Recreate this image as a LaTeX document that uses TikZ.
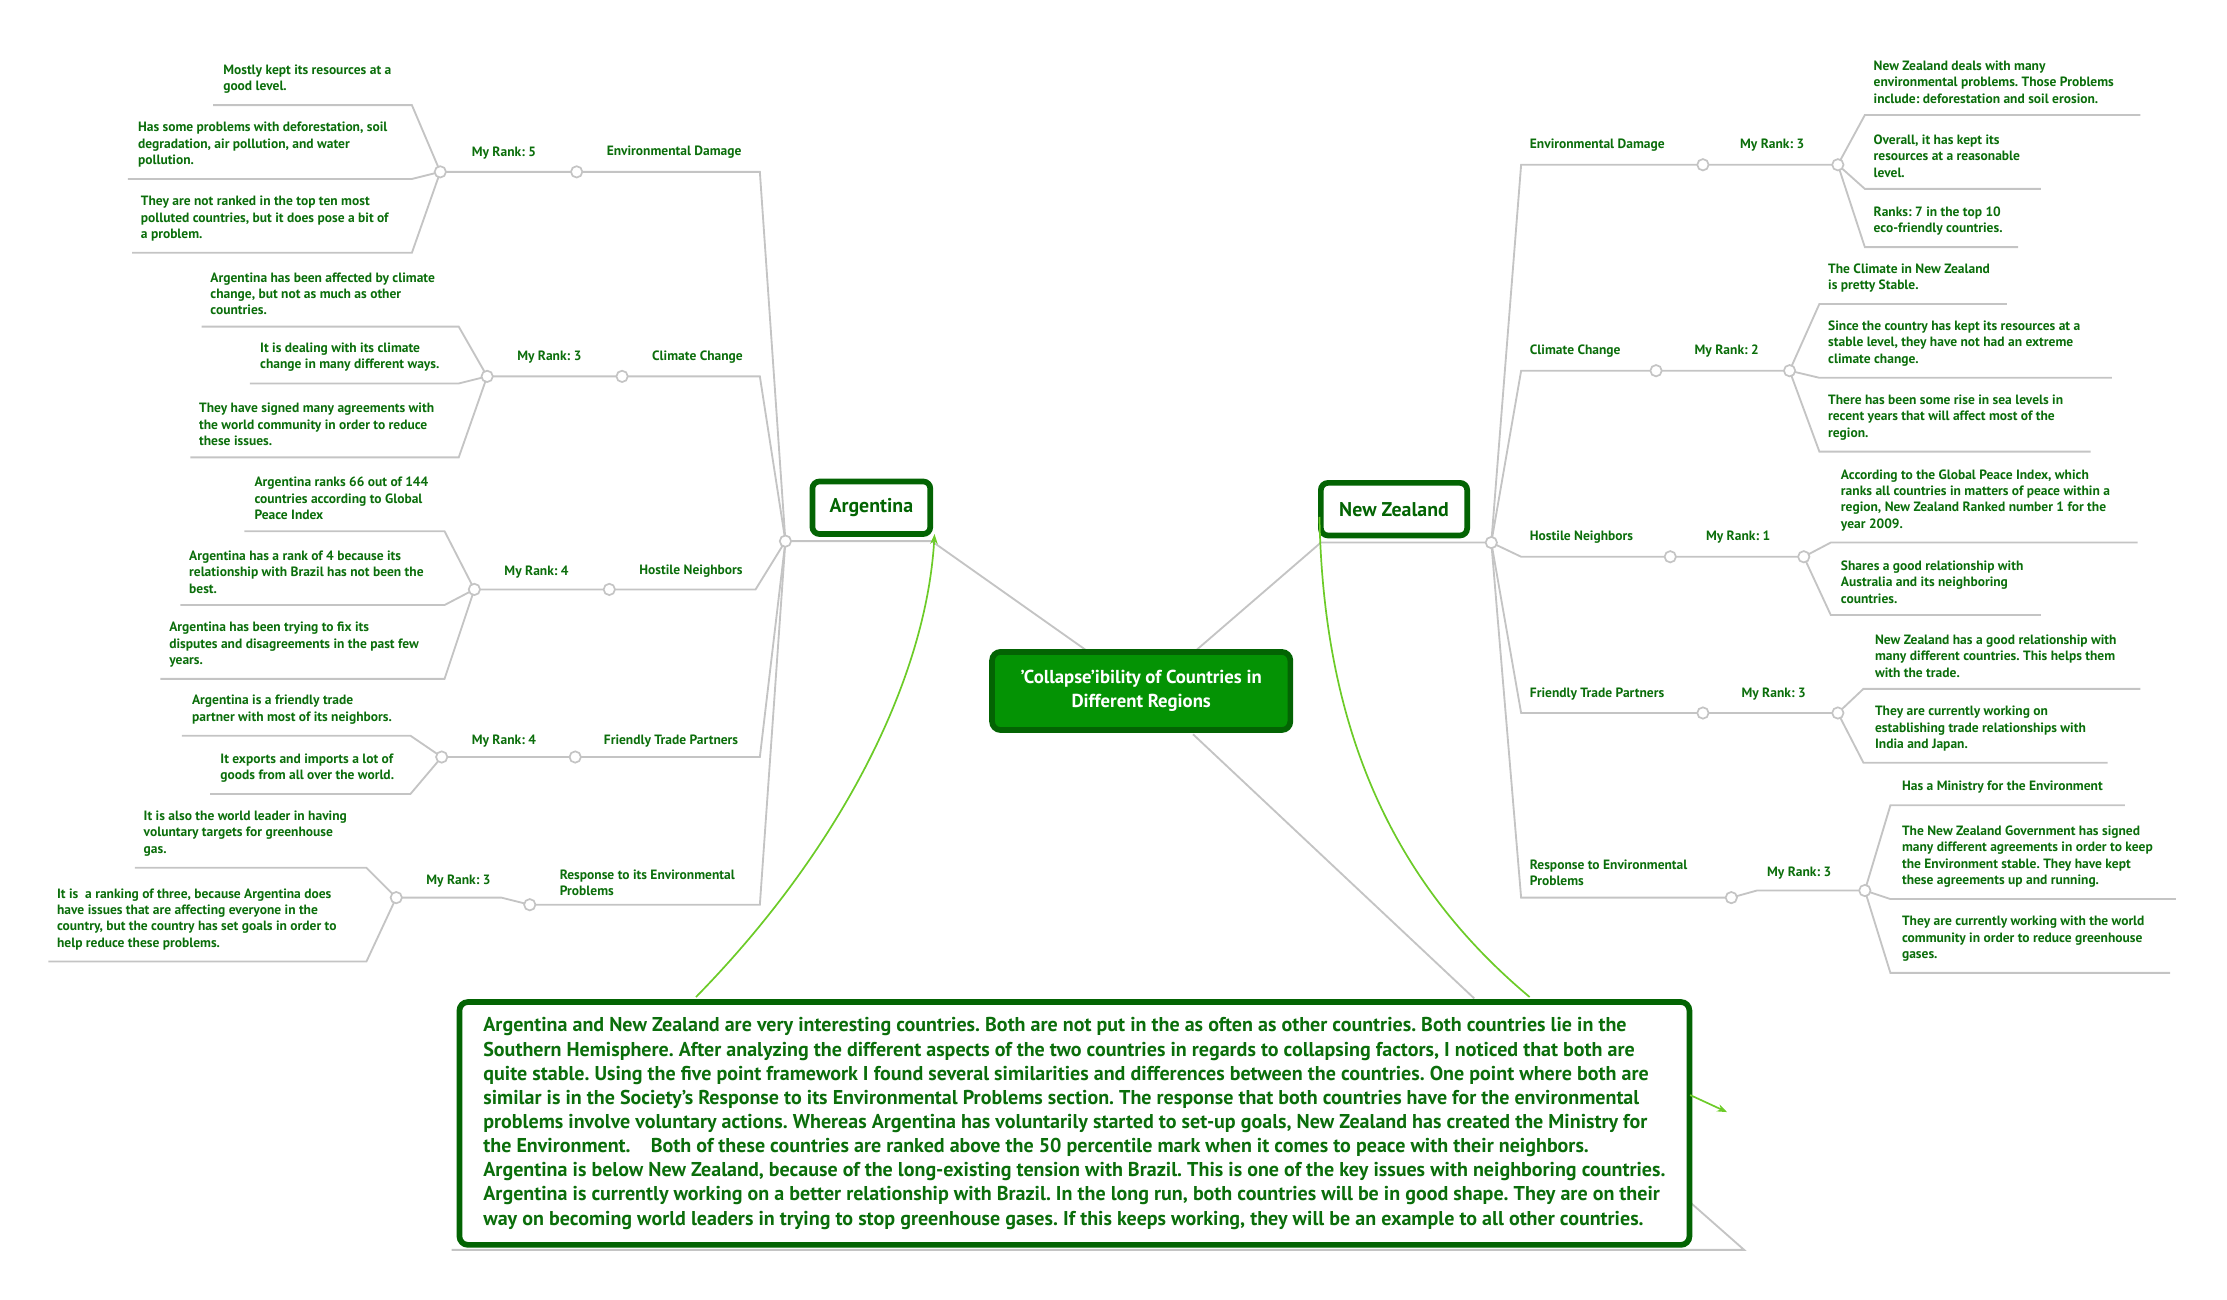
\documentclass[tikz,border=0pt]{standalone}
\usepackage{fontspec}
\setmainfont{PT Sans}
\usetikzlibrary{arrows.meta}
\definecolor{tgreen}{HTML}{0B6E0B}
\definecolor{dgreen}{HTML}{036403}
\definecolor{cgreen}{HTML}{049304}
\definecolor{lgreen}{HTML}{6CCB28}
\definecolor{lgrey}{HTML}{C4C4C4}
\frenchspacing
\tikzset{
 conn/.style={draw=lgrey,line width=1.3pt},
 dot/.style={circle,draw=lgrey,line width=1.2pt,fill=white,minimum size=8pt,inner sep=0pt},
 leaf/.style={inner sep=0pt,align=left,text=tgreen,font=\fontsize{9.5}{11.5}\selectfont\bfseries},
 lab/.style={inner sep=0pt,align=left,text=tgreen,font=\fontsize{9.5}{11.5}\selectfont\bfseries},
 country/.style={draw=dgreen,line width=4pt,rounded corners=5pt,fill=white,text=dgreen,font=\fontsize{14}{16}\selectfont\bfseries,inner sep=0pt},
 topic/.style={draw=dgreen,line width=4pt,rounded corners=6pt,fill=cgreen,text=white,align=center,font=\fontsize{13.2}{17}\selectfont\bfseries,inner sep=0pt},
 sumbox/.style={draw=dgreen,line width=4pt,rounded corners=6pt,fill=white,text=tgreen,align=left,font=\fontsize{14.1}{17}\selectfont\bfseries,inner sep=0pt},
 link/.style={draw=lgreen,line width=1.2pt}
}
\newcommand\leafL[7]{%
 \coordinate (#1a) at (#2,#4); \coordinate (#1b) at (#3,#4);
 \node[leaf,anchor=south west] (#1) at (#5,#4-8) {#6};
 \draw[conn] (#1a) -- (#1b) -- (#7);}
\newcommand\leafR[7]{%
 \coordinate (#1a) at (#2,#4); \coordinate (#1b) at (#3,#4);
 \node[leaf,anchor=south west] (#1) at (#5,#4-8) {#6};
 \draw[conn] (#7) -- (#1a) -- (#1b);}
\begin{document}
\begin{tikzpicture}[x=1pt,y=-1pt]
\useasboundingbox (0,0) rectangle (1568,915.3);
\coordinate (A) at (553,381);
\coordinate (N) at (1050,382);
% ---------- left branches ----------
\coordinate (lc1) at (535,121); \coordinate (lr1) at (406,121); \coordinate (lh1) at (310,121);
\coordinate (lc2) at (535,265); \coordinate (lr2) at (438,265); \coordinate (lh2) at (343,265);
\coordinate (lc3) at (532,415); \coordinate (lr3) at (429,415); \coordinate (lh3) at (334,415);
\coordinate (lc4) at (535,533); \coordinate (lr4) at (405,533); \coordinate (lh4) at (311,533);
\coordinate (lc5) at (535,637); \coordinate (lr5) at (373,637); \coordinate (lk5) at (353,632); \coordinate (lh5) at (279,632);
\draw[conn] (A) -- (lc1) -- (lr1) -- (lh1);
\draw[conn] (A) -- (lc2) -- (lr2) -- (lh2);
\draw[conn] (A) -- (lc3) -- (lr3) -- (lh3);
\draw[conn] (A) -- (lc4) -- (lr4) -- (lh4);
\draw[conn] (A) -- (lc5) -- (lr5) -- (lk5) -- (lh5);
\node[lab,anchor=south west] (ltl1) at (427,112) {Environmental Damage};
\node[lab,anchor=south west] (lrl1) at (332,112) {My Rank: 5};
\node[lab,anchor=south west] (ltl2) at (459,256) {Climate Change};
\node[lab,anchor=south west] (lrl2) at (364,256) {My Rank: 3};
\node[lab,anchor=south west] (ltl3) at (450,407) {Hostile Neighbors};
\node[lab,anchor=south west] (lrl3) at (355,407) {My Rank: 4};
\node[lab,anchor=south west] (ltl4) at (425,526) {Friendly Trade Partners};
\node[lab,anchor=south west] (lrl4) at (332,526) {My Rank: 4};
\node[lab,anchor=south west] (ltl5) at (394,631) {Response to its Environmental\\Problems};
\node[lab,anchor=south west] (lrl5) at (300,625) {My Rank: 3};
\leafL{la1}{150}{290}{74}{157}{Mostly kept its resources at a\\good level.}{lh1}
\leafL{la2}{90}{290}{126}{97}{Has some problems with deforestation, soil\\degradation, air pollution, and water\\pollution.}{lh1}
\leafL{la3}{93}{290}{178}{99}{They are not ranked in the top ten most\\polluted countries, but it does pose a bit of\\a problem.}{lh1}
\leafL{lb1}{142}{323}{230}{148}{Argentina has been affected by climate\\change, but not as much as other\\countries.}{lh2}
\leafL{lb2}{176}{323}{270}{183}{It is dealing with its climate\\change in many different ways.}{lh2}
\leafL{lb3}{134}{323}{322}{140}{They have signed many agreements with\\the world community in order to reduce\\these issues.}{lh2}
\leafL{lc1l}{172}{313}{374}{179}{Argentina ranks 66 out of 144\\countries according to Global\\Peace Index}{lh3}
\leafL{lc2l}{127}{313}{426}{133}{Argentina has a rank of 4 because its\\relationship with Brazil has not been the\\best.}{lh3}
\leafL{lc3l}{113}{313}{478}{119}{Argentina has been trying to fix its\\disputes and disagreements in the past few\\years.}{lh3}
\leafL{ld1}{128}{289}{518}{135}{Argentina is a friendly trade\\partner with most of its neighbors.}{lh4}
\leafL{ld2}{148}{289}{559}{155}{It exports and imports a lot of\\goods from all over the world.}{lh4}
\leafL{le1}{95}{258}{611}{101}{It is also the world leader in having\\voluntary targets for greenhouse\\gas.}{lh5}
\leafL{le2}{34}{258}{677}{40}{It is\ \ a ranking of three, because Argentina does\\have issues that are affecting everyone in the\\country, but the country has set goals in order to\\help reduce these problems.}{lh5}
% ---------- right branches ----------
\coordinate (rc1) at (1071,116); \coordinate (rr1) at (1199,116); \coordinate (rh1) at (1294,116);
\coordinate (rc2) at (1071,261); \coordinate (rr2) at (1166,261); \coordinate (rh2) at (1260,261);
\coordinate (rc3) at (1071,392); \coordinate (rr3) at (1176,392); \coordinate (rh3) at (1270,392);
\coordinate (rc4) at (1071,502); \coordinate (rr4) at (1199,502); \coordinate (rh4) at (1294,502);
\coordinate (rc5) at (1071,632); \coordinate (rr5) at (1219,632); \coordinate (rk5) at (1237,627); \coordinate (rh5) at (1313,627);
\draw[conn] (N) -- (rc1) -- (rr1) -- (rh1);
\draw[conn] (N) -- (rc2) -- (rr2) -- (rh2);
\draw[conn] (N) -- (rc3) -- (rr3) -- (rh3);
\draw[conn] (N) -- (rc4) -- (rr4) -- (rh4);
\draw[conn] (N) -- (rc5) -- (rr5) -- (rk5) -- (rh5);
\node[lab,anchor=south west] (rtl1) at (1077,107) {Environmental Damage};
\node[lab,anchor=south west] (rrl1) at (1225,107) {My Rank: 3};
\node[lab,anchor=south west] (rtl2) at (1077,252) {Climate Change};
\node[lab,anchor=south west] (rrl2) at (1193,252) {My Rank: 2};
\node[lab,anchor=south west] (rtl3) at (1077,383) {Hostile Neighbors};
\node[lab,anchor=south west] (rrl3) at (1201,383) {My Rank: 1};
\node[lab,anchor=south west] (rtl4) at (1077,493) {Friendly Trade Partners};
\node[lab,anchor=south west] (rrl4) at (1226,493) {My Rank: 3};
\node[lab,anchor=south west] (rtl5) at (1077,624) {Response to Environmental\\Problems};
\node[lab,anchor=south west] (rrl5) at (1244,619) {My Rank: 3};
\leafR{ra1}{1313}{1507}{81}{1319}{New Zealand deals with many\\environmental problems. Those Problems\\include: deforestation and soil erosion.}{rh1}
\leafR{ra2}{1313}{1437}{133}{1319}{Overall, it has kept its\\resources at a reasonable\\level.}{rh1}
\leafR{ra3}{1313}{1421}{174}{1319}{Ranks: 7 in the top 10\\eco-friendly countries.}{rh1}
\leafR{rb1}{1281}{1413}{214}{1287}{The Climate in New Zealand\\is pretty Stable.}{rh2}
\leafR{rb2}{1281}{1487}{266}{1287}{Since the country has kept its resources at a\\stable level, they have not had an extreme\\climate change.}{rh2}
\leafR{rb3}{1281}{1472}{318}{1287}{There has been some rise in sea levels in\\recent years that will affect most of the\\region.}{rh2}
\leafR{rc1l}{1289}{1505}{382}{1296}{According to the Global Peace Index, which\\ranks all countries in matters of peace within a\\region, New Zealand Ranked number 1 for the\\year 2009.}{rh3}
\leafR{rc2l}{1289}{1437}{433}{1296}{Shares a good relationship with\\Australia and its neighboring\\countries.}{rh3}
\leafR{rd1}{1312}{1507}{485}{1320}{New Zealand has a good relationship with\\many different countries. This helps them\\with the trade.}{rh4}
\leafR{rd2}{1312}{1484}{537}{1320}{They are currently working on\\establishing trade relationships with\\India and Japan.}{rh4}
\leafR{re1}{1331}{1496}{567}{1339}{Has a Ministry for the Environment}{rh5}
\leafR{re2}{1331}{1532}{633}{1339}{The New Zealand Government has signed\\many different agreements in order to keep\\the Environment stable. They have kept\\these agreements up and running.}{rh5}
\leafR{re3}{1331}{1528}{685}{1339}{They are currently working with the world\\community in order to reduce greenhouse\\gases.}{rh5}
% ---------- main nodes ----------
\coordinate (Ab) at (656,381);
\coordinate (Nb) at (930,382);
\coordinate (Tnw) at (765,458);
\coordinate (Tne) at (842,458);
\coordinate (Ts) at (840,517);
\coordinate (Sn) at (1038,703);
\draw[conn] (A) -- (Ab) -- (Tnw);
\draw[conn] (N) -- (Nb) -- (Tne);
\draw[conn] (Ts) -- (Sn);
\node[topic,minimum width=210pt,minimum height=55pt] (T) at (803.5,486.5) {'Collapse'ibility of Countries in\\Different Regions};
\coordinate (Sr) at (1186,843);
\coordinate (Sc) at (1228,880);
\coordinate (Sl) at (318,880);
\draw[conn] (Sr) -- (Sc) -- (Sl);
\node[sumbox,minimum width=866pt,minimum height=171pt] (S) at (756.5,791) {Argentina and New Zealand are very interesting countries. Both are not put in the as often as other countries. Both countries lie in the\\
Southern Hemisphere. After analyzing the different aspects of the two countries in regards to collapsing factors, I noticed that both are\\
quite stable. Using the five point framework I found several similarities and differences between the countries. One point where both are\\
similar is in the Society's Response to its Environmental Problems section. The response that both countries have for the environmental\\
problems involve voluntary actions. Whereas Argentina has voluntarily started to set-up goals, New Zealand has created the Ministry for\\
the Environment.\ \ \ \ Both of these countries are ranked above the 50 percentile mark when it comes to peace with their neighbors.\\
Argentina is below New Zealand, because of the long-existing tension with Brazil. This is one of the key issues with neighboring countries.\\
Argentina is currently working on a better relationship with Brazil. In the long run, both countries will be in good shape. They are on their\\
way on becoming world leaders in trying to stop greenhouse gases. If this keeps working, they will be an example to all other countries.};
\node[country,minimum width=83pt,minimum height=37pt] (Arg) at (613.5,357.5) {Argentina};
\node[country,minimum width=103pt,minimum height=37pt] (NZ) at (981.5,358.5) {New Zealand};
\coordinate (S1) at (490,702);
\coordinate (S2) at (1077,702);
\coordinate (Aarr) at (658,376);
\coordinate (Narr) at (929,364);
\draw[link,-{Stealth[length=7pt]}] (S1) .. controls (590,600) and (652,480) .. (Aarr);
\draw[link] (Narr) .. controls (932,520) and (985,625) .. (S2);
\coordinate (G1) at (1190,771);
\coordinate (G2) at (1216,783);
\draw[link,-{Stealth[length=7pt]}] (G1) -- (G2);
\foreach \p in {A,N,lr1,lh1,lr2,lh2,lr3,lh3,lr4,lh4,lr5,lh5,rr1,rh1,rr2,rh2,rr3,rh3,rr4,rh4,rr5,rh5}
 \node[dot] at (\p) {};
\end{tikzpicture}
\end{document}
